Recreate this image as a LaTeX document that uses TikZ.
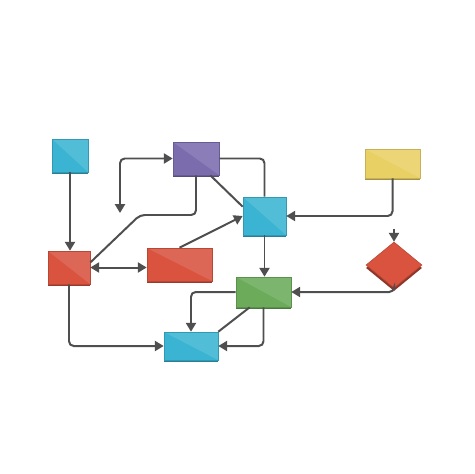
\documentclass[tikz,border=0pt]{standalone}
\usepackage{tikz}
\usetikzlibrary{positioning}
\usetikzlibrary{arrows.meta}
\usetikzlibrary{shapes.geometric}
\usetikzlibrary{calc}

\definecolor{boxcyan}{HTML}{3AB4D2}
\definecolor{boxpurple}{HTML}{7B6CAE}
\definecolor{boxyellow}{HTML}{E9D064}
\definecolor{boxred}{HTML}{D9533F}
\definecolor{boxgreen}{HTML}{6BAB5A}
\definecolor{wire}{HTML}{4F4F4F}

\begin{document}
\begin{tikzpicture}[x=0.03cm,y=-0.03cm,line width=1.7pt,>={Triangle[length=7.5pt,width=8.5pt]}]
\tikzset{block/.style={rectangle,inner sep=0pt,draw=#1!85!black,line width=0.5pt,fill=#1,
  preaction={fill=#1!70!black,transform canvas={yshift=-1.5*0.03cm}},
  path picture={\fill[white,opacity=0.12] (path picture bounding box.north west) -- (path picture bounding box.north east) -- (path picture bounding box.south east) -- cycle;}}}
\tikzset{choice/.style={diamond,inner sep=0pt,draw=#1!85!black,line width=0.5pt,fill=#1,
  preaction={fill=#1!65!black,transform canvas={yshift=-3*0.03cm}},
  minimum width=56*0.03cm,minimum height=46*0.03cm}}
\tikzset{wire/.style={draw=wire,rounded corners=4pt}}
\useasboundingbox (0,0) rectangle (474,474);
\node[block=boxcyan,minimum width=36*0.03cm,minimum height=33*0.03cm] (input) at (70,155.5) {};
\node[block=boxpurple,minimum width=46*0.03cm,minimum height=33*0.03cm] (loop) at (196,158.5) {};
\node[block=boxcyan,minimum width=43*0.03cm,minimum height=38*0.03cm] (hub) at (264.5,216) {};
\node[block=boxyellow,minimum width=55*0.03cm,minimum height=29*0.03cm] (source) at (392.5,163.5) {};
\node[block=boxred,minimum width=42*0.03cm,minimum height=33*0.03cm] (left) at (69,267.5) {};
\node[block=boxred,minimum width=65*0.03cm,minimum height=33*0.03cm] (middle) at (179.5,264.5) {};
\node[block=boxgreen,minimum width=55*0.03cm,minimum height=30*0.03cm] (merge) at (263.5,292) {};
\node[choice=boxred] (decision) at (394,265) {};
\node[block=boxcyan,minimum width=54*0.03cm,minimum height=28*0.03cm] (output) at (191,346) {};
\coordinate (loopend) at (120,213);
\coordinate (decin) at (394,229);
% connectors
\draw[wire,->] (input.south) -- (input.south |- left.north);
\draw[wire,<->] (loopend) |- (loop.west);
\draw[wire] (loop.east) -| (hub.north);
\draw[wire] ($(loop.south east)+(-9,0)$) -- ($(hub.north west)+(0,10)$);
\draw[wire] (loop.south) |- (140,215) -- ($(left.east)+(0,-5)$);
\draw[wire,->] (middle.north) -- (hub.west);
\draw[wire,<->] (left.east) -- (left.east -| middle.west);
\draw[wire,->] (source.south) |- (hub.east);
\draw[wire,->] (decin) -- (decision.north);
\draw[wire,->] (hub.south) -- (hub.south |- merge.north);
\draw[wire,->] ($(decision.south)+(0,2)$) |- (merge.east);
\draw[wire,->] (merge.west) -| (output.north);
\draw[wire] ($(merge.south west)+(14,0)$) -- (output.north east);
\draw[wire,->] (merge.south) |- (output.east);
\draw[wire,->] (left.south) |- (output.west);
\end{tikzpicture}
\end{document}
